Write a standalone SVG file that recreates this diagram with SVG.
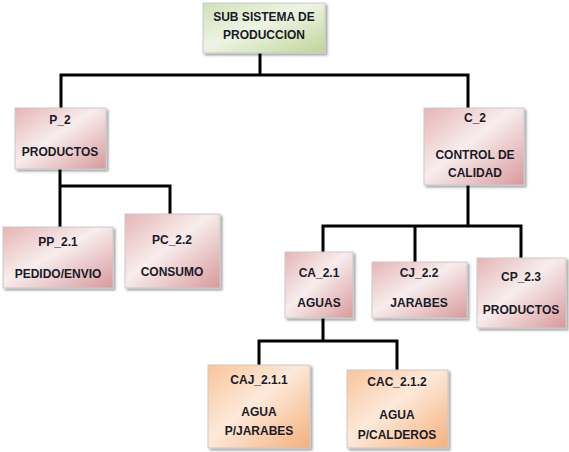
<svg xmlns="http://www.w3.org/2000/svg" width="569" height="452" viewBox="0 0 569 452">
<defs>
<linearGradient id="gPink" x1="0" y1="0" x2="1" y2="1">
<stop offset="0" stop-color="#e6b4b5"/>
<stop offset="0.45" stop-color="#f8eded"/>
<stop offset="1" stop-color="#d8999b"/>
</linearGradient>
<linearGradient id="gOrange" x1="0" y1="0" x2="1" y2="1">
<stop offset="0" stop-color="#f8c59b"/>
<stop offset="0.45" stop-color="#fde9da"/>
<stop offset="1" stop-color="#f4b07b"/>
</linearGradient>
<linearGradient id="gGreen" x1="0" y1="0" x2="1" y2="1">
<stop offset="0" stop-color="#cfe0b6"/>
<stop offset="0.45" stop-color="#eef4e5"/>
<stop offset="1" stop-color="#c0d497"/>
</linearGradient>
<filter id="sh" x="-10%" y="-10%" width="130%" height="130%">
<feDropShadow dx="2" dy="2" stdDeviation="1.2" flood-color="#000" flood-opacity="0.35"/>
</filter>
</defs>
<style>
.box{stroke:#c9c9c9;stroke-width:1;filter:url(#sh)}
.pink{fill:url(#gPink)}
.orange{fill:url(#gOrange)}
.green{fill:url(#gGreen)}
text{font-family:"Liberation Sans",Arial,sans-serif;font-weight:bold;font-size:12px;fill:#1a1a28;text-anchor:middle;dominant-baseline:central}
.con{stroke:#000;stroke-width:3;fill:none;stroke-linecap:square}
</style>
<g id="connectors">
<path class="con" d="M260,53 V75 M61,75 H468 M61,75 V108 M468,75 V108"/>
<path class="con" d="M60,169 V227 M60,186 H170 V214"/>
<path class="con" d="M468,185 V226 M323,226 H521 M323,226 V252 M415,226 V262 M521,226 V258"/>
<path class="con" d="M323,318 V341 M259,341 H397 M259,341 V365 M397,341 V370"/>
</g>
<g id="sub_sistema">
<rect class="box green" x="203" y="3" width="122" height="50"/>
<text x="264" y="17">SUB SISTEMA DE</text>
<text x="264" y="35">PRODUCCION</text>
</g>
<g id="p_2">
<rect class="box pink" x="15" y="108" width="91" height="61"/>
<text x="60" y="120">P_2</text>
<text x="60" y="152">PRODUCTOS</text>
</g>
<g id="c_2">
<rect class="box pink" x="424" y="108" width="100" height="77"/>
<text x="475" y="118">C_2</text>
<text x="475" y="155">CONTROL DE</text>
<text x="475" y="173">CALIDAD</text>
</g>
<g id="pp_2_1">
<rect class="box pink" x="3" y="227" width="110" height="61"/>
<text x="58" y="242">PP_2.1</text>
<text x="58" y="274">PEDIDO/ENVIO</text>
</g>
<g id="pc_2_2">
<rect class="box pink" x="125" y="214" width="95" height="74"/>
<text x="172" y="240">PC_2.2</text>
<text x="172" y="272">CONSUMO</text>
</g>
<g id="ca_2_1">
<rect class="box pink" x="285" y="252" width="68" height="66"/>
<text x="319" y="273">CA_2.1</text>
<text x="319" y="303">AGUAS</text>
</g>
<g id="cj_2_2">
<rect class="box pink" x="372" y="262" width="95" height="56"/>
<text x="419" y="273">CJ_2.2</text>
<text x="419" y="303">JARABES</text>
</g>
<g id="cp_2_3">
<rect class="box pink" x="477" y="258" width="89" height="70"/>
<text x="521" y="277">CP_2.3</text>
<text x="521" y="310">PRODUCTOS</text>
</g>
<g id="caj_2_1_1">
<rect class="box orange" x="208" y="365" width="102" height="83"/>
<text x="259" y="380">CAJ_2.1.1</text>
<text x="259" y="412">AGUA</text>
<text x="259" y="431">P/JARABES</text>
</g>
<g id="cac_2_1_2">
<rect class="box orange" x="347" y="370" width="101" height="78"/>
<text x="397" y="382">CAC_2.1.2</text>
<text x="397" y="415">AGUA</text>
<text x="397" y="435">P/CALDEROS</text>
</g>
</svg>
